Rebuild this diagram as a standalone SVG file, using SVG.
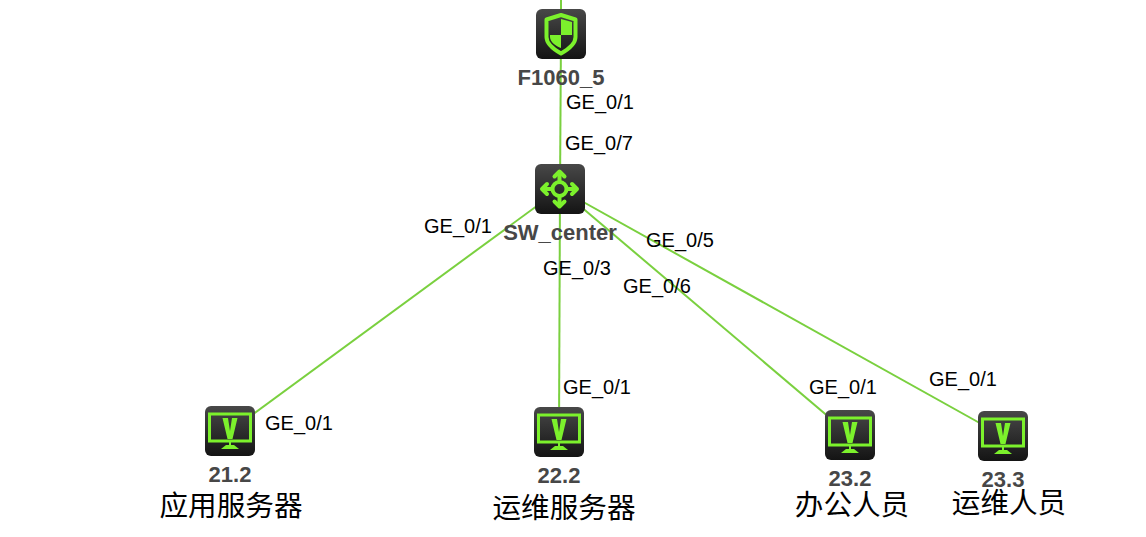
<svg xmlns="http://www.w3.org/2000/svg" width="1146" height="537" viewBox="0 0 1146 537">
<style>
.link{stroke:#7ad03f;stroke-width:2;fill:none}
.port{font:20px "Liberation Sans",Arial,sans-serif;fill:#000}
.name{font:bold 22px "Liberation Sans",Arial,sans-serif;fill:#474747;text-anchor:middle}
.note{font:28.600px "Noto Sans CJK SC",sans-serif;fill:#000;text-anchor:middle}
.line{fill:none;stroke:#7cf12c;stroke-width:3}
.thick{fill:none;stroke:#7cf12c;stroke-width:4}
.fill{fill:#7cf12c}
</style>
<defs>
<linearGradient id="bg" x1="0" y1="0" x2="0" y2="1"><stop offset="0" stop-color="#484848"/><stop offset="1" stop-color="#141414"/></linearGradient>
<symbol id="pc" viewBox="0 0 50 50" width="50" height="50" overflow="visible">
<rect width="50" height="50" rx="6" fill="url(#bg)"/>
<rect x="4.500" y="8" width="41" height="27" class="line"/>
<path class="fill" d="M17.500 12H23L25 25L27 12H32.500L27.500 33H22.500Z"/>
<path class="fill" d="M24 36H26V39H29L34 43H16L21 39H24Z"/>
</symbol>
<symbol id="fw" viewBox="0 0 50 50" width="50" height="50" overflow="visible">
<rect width="50" height="50" rx="6" fill="url(#bg)"/>
<path d="M25 6L39.500 10.500V28C39.500 35 33 40 25 44.500C17 40 10.500 35 10.500 28V10.500Z" class="thick" stroke-linejoin="round"/>
<path class="fill" d="M25 10L36 13V26H25ZM25 26V39C20 37 14 33 14 28V26Z"/>
</symbol>
<symbol id="sw" viewBox="0 0 50 50" width="50" height="50" overflow="visible">
<rect width="50" height="50" rx="6" fill="url(#bg)"/>
<circle cx="24.500" cy="25" r="7" class="thick"/>
<path class="thick" d="M24.500 9V18M24.500 32V41M8 25H17.500M31.500 25H41"/>
<path class="thick" stroke-linecap="round" stroke-linejoin="round" d="M19.500 12.500L24.500 7.500L29.500 12.500M19.500 37.500L24.500 42.500L29.500 37.500M12 20L7 25L12 30M37 20L42 25L37 30"/>
</symbol>
</defs>
<rect width="1146" height="537" fill="#fff"/>
<g id="connectors">
<path class="link" d="M561 0V34"/>
<path class="link" d="M561 34L560 189"/>
<path class="link" d="M560 189L230 431"/>
<path class="link" d="M560 189L559 432"/>
<path class="link" d="M560 189L850 435"/>
<path class="link" d="M560 189L1003 436"/>
</g>
<g id="port-labels">
<text class="port" x="566" y="109">GE_0/1</text>
<text class="port" x="565" y="150">GE_0/7</text>
<text class="port" x="424" y="233">GE_0/1</text>
<text class="port" x="646" y="247">GE_0/5</text>
<text class="port" x="543" y="275">GE_0/3</text>
<text class="port" x="623" y="293">GE_0/6</text>
<text class="port" x="265" y="430">GE_0/1</text>
<text class="port" x="563" y="394">GE_0/1</text>
<text class="port" x="809" y="394">GE_0/1</text>
<text class="port" x="929" y="386">GE_0/1</text>
</g>
<g id="F1060_5"><use href="#fw" x="536" y="9"/><text class="name" x="561" y="85">F1060_5</text></g>
<g id="SW_center"><use href="#sw" x="535" y="164"/><text class="name" x="560" y="240">SW_center</text></g>
<g id="n21_2"><use href="#pc" x="205" y="406"/><text class="name" x="230" y="482">21.2</text><text class="note" x="231" y="516">应用服务器</text></g>
<g id="n22_2"><use href="#pc" x="534" y="407"/><text class="name" x="559" y="483">22.2</text><text class="note" x="564" y="518">运维服务器</text></g>
<g id="n23_2"><use href="#pc" x="825" y="410"/><text class="name" x="850" y="486">23.2</text><text class="note" x="852" y="515">办公人员</text></g>
<g id="n23_3"><use href="#pc" x="978" y="411"/><text class="name" x="1003" y="487">23.3</text><text class="note" x="1009" y="513">运维人员</text></g>
</svg>
